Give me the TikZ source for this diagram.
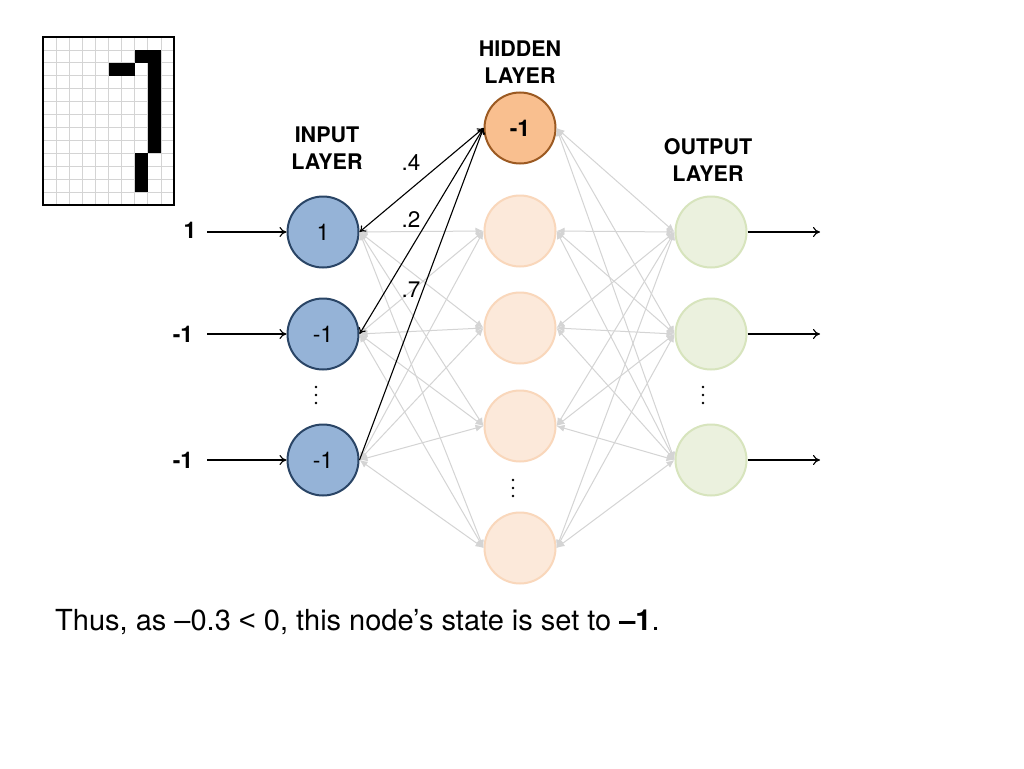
\documentclass[tikz,border=0pt]{standalone}
\usepackage{fontspec}
\setmainfont{TeX Gyre Heros}
\newfontfamily\ltfont{Liberation Sans}
\usetikzlibrary{arrows.meta}
\definecolor{inblue}{HTML}{95B3D7}
\definecolor{inborder}{HTML}{2A4566}
\definecolor{hidfill}{HTML}{F9BF8F}
\definecolor{hidborder}{HTML}{9C5A22}
\definecolor{hidfade}{HTML}{FCE9DA}
\definecolor{hidfadeb}{HTML}{F9D7BB}
\definecolor{outfill}{HTML}{EBF1DE}
\definecolor{outborder}{HTML}{D7E4BD}
\definecolor{conn}{HTML}{D4D4D4}
\definecolor{gridc}{HTML}{D4D4D4}
\begin{document}
\begin{tikzpicture}[x=1pt,y=-1pt,
  neuron/.style={circle, minimum size=71pt, inner sep=0pt, line width=2pt, font=\fontsize{23}{26}\selectfont},
  inneuron/.style={neuron, fill=inblue, draw=inborder},
  hidactive/.style={neuron, fill=hidfill, draw=hidborder, font=\fontsize{23}{26}\selectfont\bfseries},
  hidfaded/.style={neuron, fill=hidfade, draw=hidfadeb},
  outneuron/.style={neuron, fill=outfill, draw=outborder},
  grayconn/.style={draw=conn, line width=1pt, {Latex[length=8pt,width=7pt]}-{Latex[length=8pt,width=7pt]}},
  blackboth/.style={draw=black, line width=1.1pt, {To[length=6pt,width=8pt]}-{To[length=6pt,width=8pt]}},
  blackone/.style={draw=black, line width=1.1pt, -{To[length=6pt,width=8pt]}},
  ioarrow/.style={draw=black, line width=1.1pt, -{To[length=7pt,width=10pt]}},
  layerlbl/.style={font=\fontsize{21.5}{27}\selectfont\bfseries, align=center},
  sidelbl/.style={font=\fontsize{23}{26}\selectfont\bfseries},
  weightlbl/.style={font=\fontsize{22.5}{26}\selectfont},
  dotmark/.style={circle, fill=black, inner sep=0pt, minimum size=2.6pt}
]
\useasboundingbox (0,0) rectangle (1024,768);
\fill[white] (0,0) rectangle (1024,768);

% pixel grid
\foreach \i in {1,...,9} \draw[gridc, line width=0.8pt] ({43+\i*13.1},37) -- ({43+\i*13.1},205);
\foreach \j in {1,...,12} \draw[gridc, line width=0.8pt] (43,{37+\j*12.923}) -- (174,{37+\j*12.923});
\foreach \r/\c in {1/7,1/8,2/5,2/6,2/8,3/8,4/8,5/8,6/8,7/8,8/8,9/7,10/7,11/7}
  \fill[black] ({43+\c*13.1},{37+\r*12.923}) rectangle +(13.1,12.923);
\draw[black, line width=1.6pt] (43,37) rectangle (174,205);

% nodes
\node[inneuron] (in1) at (323,232) {1};
\node[inneuron] (in2) at (323,334) {-1};
\node[inneuron] (in3) at (323,460) {-1};
\node[hidactive] (h1) at (520,128) {-1};
\node[hidfaded] (h2) at (520,231) {};
\node[hidfaded] (h3) at (520,328) {};
\node[hidfaded] (h4) at (520,426) {};
\node[hidfaded] (h5) at (520,548) {};
\node[outneuron] (o1) at (711,232) {};
\node[outneuron] (o2) at (711,334) {};
\node[outneuron] (o3) at (711,460) {};

% gray connections
\foreach \i in {1,2,3} \foreach \j in {2,3,4,5}
  \draw[grayconn] (in\i.east) -- (h\j.west);
\foreach \j in {1,2,3,4,5} \foreach \k in {1,2,3}
  \draw[grayconn] (h\j.east) -- (o\k.west);

% black connections
\draw[blackboth] (in1.east) -- (h1.west);
\draw[blackboth] (in2.east) -- (h1.west);
\draw[blackone] (in3.east) -- (h1.west);

% weights
\node[weightlbl] (w1) at (411,163) {.4};
\node[weightlbl] (w2) at (411,220) {.2};
\node[weightlbl] (w3) at (411,290) {.7};

% layer labels
\node[layerlbl] (linput) at (327,148) {INPUT\\LAYER};
\node[layerlbl] (lhidden) at (520,62) {HIDDEN\\LAYER};
\node[layerlbl] (loutput) at (708,160) {OUTPUT\\LAYER};

% inputs
\node[sidelbl] (x1) at (190,230) {1};
\node[sidelbl] (x2) at (183,334) {-1};
\node[sidelbl] (x3) at (183,460) {-1};
\coordinate (s1) at (207,232);
\coordinate (s2) at (207,334);
\coordinate (s3) at (207,460);
\draw[ioarrow] (s1) -- (in1);
\draw[ioarrow] (s2) -- (in2);
\draw[ioarrow] (s3) -- (in3);

% outputs
\coordinate (e1) at (820,232);
\coordinate (e2) at (820,334);
\coordinate (e3) at (820,460);
\draw[ioarrow] (o1) -- (e1);
\draw[ioarrow] (o2) -- (e2);
\draw[ioarrow] (o3) -- (e3);

% dots
\foreach \y in {387,395,403} \node[dotmark] at (316,\y) {};
\foreach \y in {480,488,496} \node[dotmark] at (513,\y) {};
\foreach \y in {387,395,403} \node[dotmark] at (703,\y) {};

% caption
\node[anchor=base west, inner sep=0pt, font=\fontsize{29}{32}\selectfont] (cap) at (55,630)
  {Thus, as –0.3 {\ltfont <} 0, this node’s state is set to \textbf{–1}.};
\end{tikzpicture}
\end{document}
